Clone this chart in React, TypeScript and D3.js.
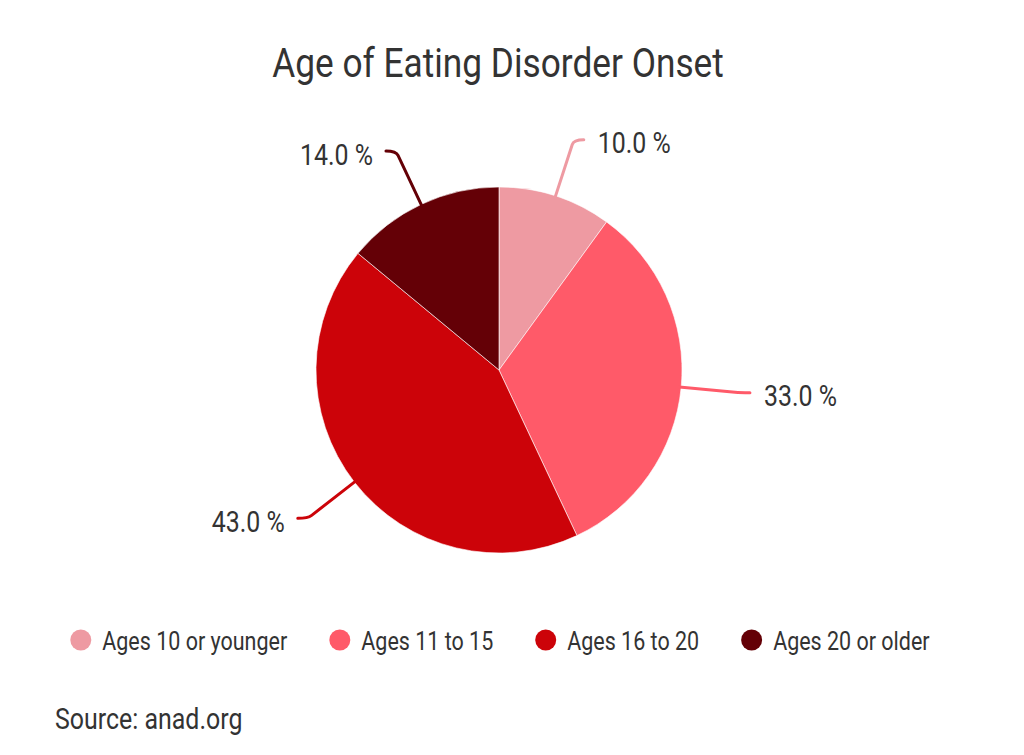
import React, { useEffect, useRef } from "react";
import * as d3 from "d3";

const categories = ["Ages 10 or younger", "Ages 11 to 15", "Ages 16 to 20", "Ages 20 or older"];
const shares = [10.0, 33.0, 43.0, 14.0];
const colors = ["#ee9aa2", "#ff5a69", "#cc0309", "#640006"];
const title = "Age of Eating Disorder Onset";
const source = "Source: anad.org";

export default function App() {
  const ref = useRef<SVGSVGElement>(null);

  useEffect(() => {
    const svg = d3.select(ref.current);
    svg.selectAll("*").remove();

    const width = 1024, height = 755;
    const cx = 499, cy = 370, r = 183;
    const font = "Roboto, 'Noto Sans', sans-serif";
    const squeeze = 0.86;

    svg.append("rect").attr("width", width).attr("height", height).attr("fill", "#fff");

    // title
    svg.append("text")
      .attr("transform", `translate(498,77) scale(${squeeze},1)`)
      .attr("text-anchor", "middle")
      .attr("font-family", font)
      .attr("font-size", 41)
      .attr("fill", "#333")
      .text(title);

    const data = categories.map((c, i) => ({ name: c, value: shares[i], color: colors[i] }));
    const pie = d3.pie<any>().value(d => d.value).sort(null);
    const arcs = pie(data);
    const arc = d3.arc<any>().innerRadius(0).outerRadius(r);

    const g = svg.append("g").attr("transform", `translate(${cx},${cy})`);

    g.selectAll("path.slice")
      .data(arcs)
      .join("path")
      .attr("class", "slice")
      .attr("d", arc)
      .attr("fill", d => d.data.color)
      .attr("stroke", "#fff")
      .attr("stroke-width", 0.6);

    // leader lines + labels
    const elbowR = 242;
    const hook = 10;
    arcs.forEach(a => {
      const mid = (a.startAngle + a.endAngle) / 2;
      const sx = Math.sin(mid), sy = -Math.cos(mid);
      const p0 = [sx * (r - 2), sy * (r - 2)];
      const p1 = [sx * elbowR, sy * elbowR];
      const right = sx >= 0;
      const p2 = [p1[0] + (right ? hook : -hook), p1[1]];
      const path = d3.path();
      path.moveTo(p0[0], p0[1]);
      const t = 0.92;
      const q = [p0[0] + (p1[0] - p0[0]) * t, p0[1] + (p1[1] - p0[1]) * t];
      path.lineTo(q[0], q[1]);
      path.quadraticCurveTo(p1[0], p1[1], p2[0], p2[1]);
      g.append("path")
        .attr("d", path.toString())
        .attr("fill", "none")
        .attr("stroke", a.data.color)
        .attr("stroke-width", 3)
        .attr("stroke-linecap", "round");
      const lx = p2[0] + (right ? 14 : -13);
      g.append("text")
        .attr("transform", `translate(${lx},${p2[1] + 4}) scale(${squeeze},1)`)
        .attr("text-anchor", right ? "start" : "end")
        .attr("dominant-baseline", "central")
        .attr("font-family", font)
        .attr("font-size", 29)
        .attr("fill", "#333")
        .text(`${a.data.value.toFixed(1)} %`);
    });

    // legend
    const legend = svg.append("g");
    const items = legend.selectAll("g.item")
      .data(data)
      .join("g")
      .attr("class", "item");
    items.append("circle")
      .attr("r", 10.5)
      .attr("cx", 10.5)
      .attr("cy", 0)
      .attr("fill", d => d.color);
    items.append("text")
      .attr("transform", `translate(32,1) scale(${squeeze},1)`)
      .attr("dominant-baseline", "central")
      .attr("font-family", font)
      .attr("font-size", 25)
      .attr("fill", "#333")
      .text(d => d.name);
    const widths: number[] = [];
    items.each(function () {
      widths.push((this as SVGGElement).getBBox().width);
    });
    const gap = 42;
    const total = d3.sum(widths) + gap * (widths.length - 1);
    let x = 500 - total / 2;
    items.attr("transform", (_d, i) => {
      const tx = x;
      x += widths[i] + gap;
      return `translate(${tx},640)`;
    });

    svg.append("text")
      .attr("transform", `translate(55,729) scale(${squeeze},1)`)
      .attr("font-family", font)
      .attr("font-size", 29)
      .attr("fill", "#333")
      .text(source);
  }, []);

  return <svg ref={ref} width={1024} height={755} style={{ display: "block", margin: -8 }} />;
}
